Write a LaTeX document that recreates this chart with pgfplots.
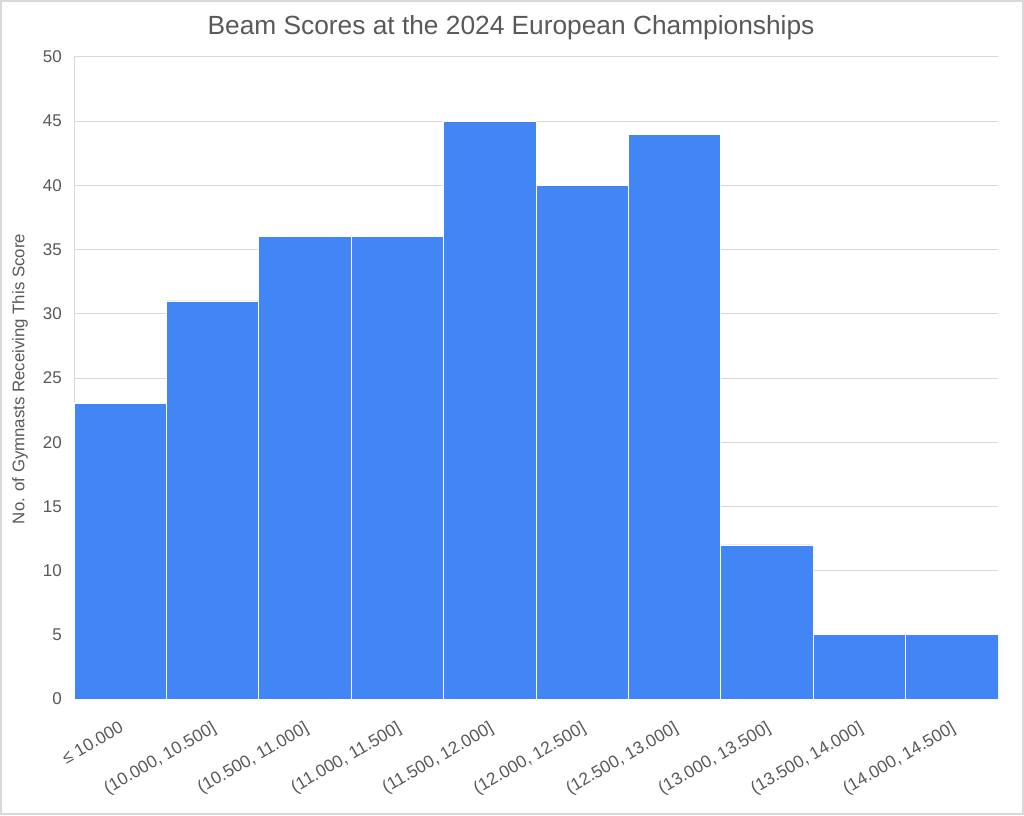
\documentclass[border=0pt]{standalone}
\usepackage{pgfplots}
\pgfplotsset{compat=1.18}
\usepackage{fontspec}
\setmainfont{Liberation Sans}
\definecolor{barblue}{HTML}{4285F4}
\definecolor{gridgray}{HTML}{D9D9D9}
\definecolor{txtgray}{HTML}{595959}
\begin{document}
\begin{tikzpicture}
\useasboundingbox (0,0) rectangle (1024pt,815pt);
\fill[white] (0,0) rectangle (1024pt,815pt);
\draw[gridgray, line width=2pt] (1pt,1pt) rectangle (1023pt,814pt);
\node[text=txtgray, font=\fontsize{26.3}{31}\selectfont] at (511pt,787pt) {Beam Scores at the 2024 European Championships};
\node[text=txtgray, font=\fontsize{16.8}{20}\selectfont, rotate=90] at (20pt,436pt) {No. of Gymnasts Receiving This Score};
\begin{axis}[
  at={(74pt,116pt)}, anchor=south west,
  scale only axis, width=924pt, height=642pt,
  xmin=-0.5, xmax=9.5, ymin=0, ymax=50,
  ytick={0,5,...,50},
  xtick={0,...,9},
  xticklabels={{≤ 10.000},{(10.000, 10.500]},{(10.500, 11.000]},{(11.000, 11.500]},{(11.500, 12.000]},{(12.000, 12.500]},{(12.500, 13.000]},{(13.000, 13.500]},{(13.500, 14.000]},{(14.000, 14.500]}},
  xticklabel style={rotate=30, anchor=north east, inner sep=0pt, xshift=-12pt, yshift=-17.5pt, text=txtgray, font=\fontsize{17.3}{20}\selectfont},
  yticklabel style={text=txtgray, font=\fontsize{17}{20}\selectfont, inner sep=0pt, xshift=-12pt},
  /pgf/number format/assume math mode=true,
  ymajorgrids, major grid style={gridgray, line width=1pt},
  axis x line*=bottom, axis y line*=left,
  axis line style={gridgray, line width=1pt},
  major tick length=0pt,
  ybar, bar width=1,
]
\addplot[fill=barblue, draw=white, line width=0.8pt] coordinates {
(0,23) (1,31) (2,36) (3,36) (4,45) (5,40) (6,44) (7,12) (8,5) (9,5)
};
\end{axis}
\end{tikzpicture}
\end{document}
